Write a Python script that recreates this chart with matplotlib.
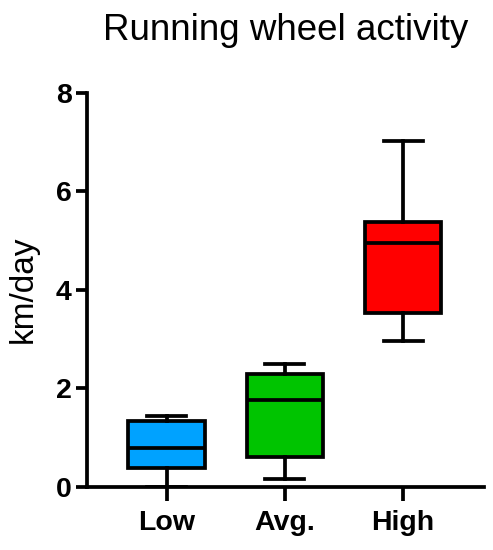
import matplotlib
matplotlib.use("Agg")
import matplotlib.pyplot as plt

categories = ["Low", "Avg.", "High"]
whisker_low = [0.0, 0.16, 2.96]
q1 = [0.39, 0.61, 3.52]
median = [0.79, 1.77, 4.95]
q3 = [1.33, 2.29, 5.38]
whisker_high = [1.43, 2.49, 7.02]
colors = ["#00A2FF", "#00C400", "#FF0000"]

plt.rcParams['font.family'] = ['Liberation Sans', 'DejaVu Sans']

fig = plt.figure(figsize=(4.93, 5.5), dpi=100)
ax = fig.add_axes([0.1765, 0.115, 0.982 - 0.1765, 0.8315 - 0.115])

stats = []
for i, c in enumerate(categories):
    stats.append(dict(label=c, whislo=whisker_low[i], q1=q1[i], med=median[i],
                      q3=q3[i], whishi=whisker_high[i], fliers=[]))

lw = 2.7
bp = ax.bxp(stats, positions=[1, 2, 3], widths=0.65, capwidths=0.33,
            patch_artist=True, showfliers=False,
            boxprops=dict(linewidth=lw, edgecolor='black'),
            medianprops=dict(linewidth=lw, color='black', solid_capstyle='butt'),
            whiskerprops=dict(linewidth=lw, color='black'),
            capprops=dict(linewidth=lw, color='black'))
for patch, col in zip(bp['boxes'], colors):
    patch.set_facecolor(col)

ax.set_xlim(0.325, 3.686)
ax.set_ylim(0, 8)
ax.set_yticks([0, 2, 4, 6, 8])
for s in ['top', 'right']:
    ax.spines[s].set_visible(False)
for s in ['left', 'bottom']:
    ax.spines[s].set_linewidth(lw)
ax.tick_params(axis='both', width=lw, length=8, labelsize=20.5)
ax.tick_params(axis='x', length=10, pad=7)
ax.tick_params(axis='y', pad=3)
for lab in ax.get_xticklabels() + ax.get_yticklabels():
    lab.set_fontweight('bold')

ax.set_ylabel("km/day", fontsize=24, labelpad=12)
fig.text(0.58, 0.945, "Running wheel activity", fontsize=26.5, ha='center', va='center')

fig.savefig("out.png", dpi=100)
